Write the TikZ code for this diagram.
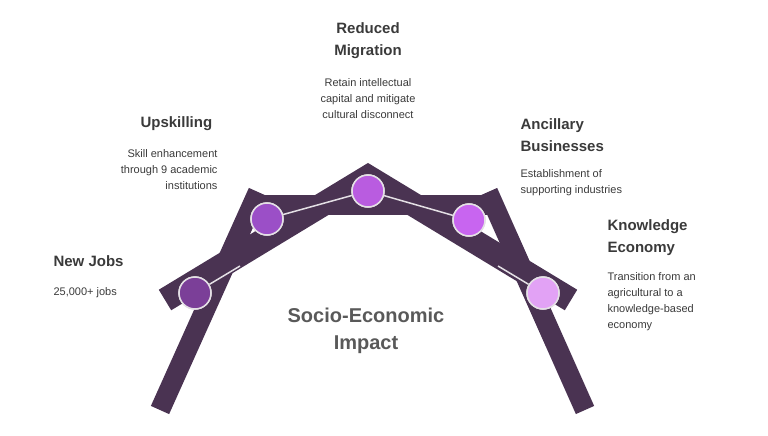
\documentclass[tikz,border=0pt]{standalone}
\usepackage{fontspec}
\setmainfont{Liberation Sans}
\definecolor{bar}{HTML}{4A3352}
\definecolor{txt}{HTML}{3A3A3A}
\definecolor{c1}{HTML}{7B3F98}
\definecolor{c2}{HTML}{9B4FC7}
\definecolor{c3}{HTML}{B95CE0}
\definecolor{c4}{HTML}{C865F0}
\definecolor{c5}{HTML}{E2A2F5}
\begin{document}
\begin{tikzpicture}[x=1pt,y=-1pt,
  barl/.style={line width=20pt,draw=bar},
  arm/.style={line width=24pt,draw=bar},
  wl/.style={line width=1.5pt,draw=white!85!bar},
  dot/.style={circle,minimum size=32pt,inner sep=0pt,draw=white!85!bar,line width=1.5pt},
  ttl/.style={font=\bfseries\fontsize{15}{18}\selectfont,text=txt,align=left,anchor=west},
  dsc/.style={font=\fontsize{11}{16}\selectfont,text=txt,align=left,anchor=north west}]
\useasboundingbox (0,0) rectangle (768,436);
\coordinate (lb) at (160,410); \coordinate (lt) at (258,192);
\coordinate (rb) at (585,410); \coordinate (rt) at (488,192);
\coordinate (hl) at (252,205); \coordinate (hr) at (492,205);
\coordinate (al) at (165,300); \coordinate (ap) at (368,177); \coordinate (ar) at (571,300);
\coordinate (w1) at (240,266); \coordinate (w5) at (498,266);
\draw[barl] (lb) -- (lt);
\draw[barl] (rb) -- (rt);
\draw[barl] (hl) -- (hr);
\draw[arm] (al) -- (ap) -- (ar);
\node[dot,fill=c1] (n1) at (195,293) {};
\node[dot,fill=c2] (n2) at (267,219) {};
\node[dot,fill=c3] (n3) at (368,191) {};
\node[dot,fill=c4] (n4) at (469,220) {};
\node[dot,fill=c5] (n5) at (543,293) {};
\draw[wl] (n1) -- (w1); \draw[wl] (n2) -- (n3); \draw[wl] (n3) -- (n4); \draw[wl] (n5) -- (w5);
\node[dot,fill=c1] at (n1) {};
\node[dot,fill=c2] at (n2) {};
\node[dot,fill=c3] at (n3) {};
\node[dot,fill=c4] at (n4) {};
\node[dot,fill=c5] at (n5) {};
\node[ttl] (t1) at (50,261) {New Jobs};
\node[dsc] (d1) at (50,284) {25,000+ jobs};
\node[ttl] (t2) at (137,124) {Upskilling};
\node[dsc,align=right,anchor=north east] (d2) at (221,146) {Skill enhancement\\through 9 academic\\institutions};
\node[font=\bfseries\fontsize{15}{22}\selectfont,text=txt,align=center] (t3) at (368,41) {Reduced\\Migration};
\node[font=\fontsize{11}{16}\selectfont,text=txt,align=center,anchor=north] (d3) at (368,75) {Retain intellectual\\capital and mitigate\\cultural disconnect};
\node[ttl,font=\bfseries\fontsize{15}{22}\selectfont] (t4) at (517,135) {Ancillary\\Businesses};
\node[dsc] (d4) at (517,166) {Establishment of\\supporting industries};
\node[ttl,font=\bfseries\fontsize{15}{22}\selectfont] (t5) at (604,238) {Knowledge\\Economy};
\node[dsc] (d5) at (604,269) {Transition from an\\agricultural to a\\knowledge-based\\economy};
\node[font=\bfseries\fontsize{20}{27}\selectfont,text=black!65,align=center] (c) at (366,331) {Socio-Economic\\Impact};
\end{tikzpicture}
\end{document}
